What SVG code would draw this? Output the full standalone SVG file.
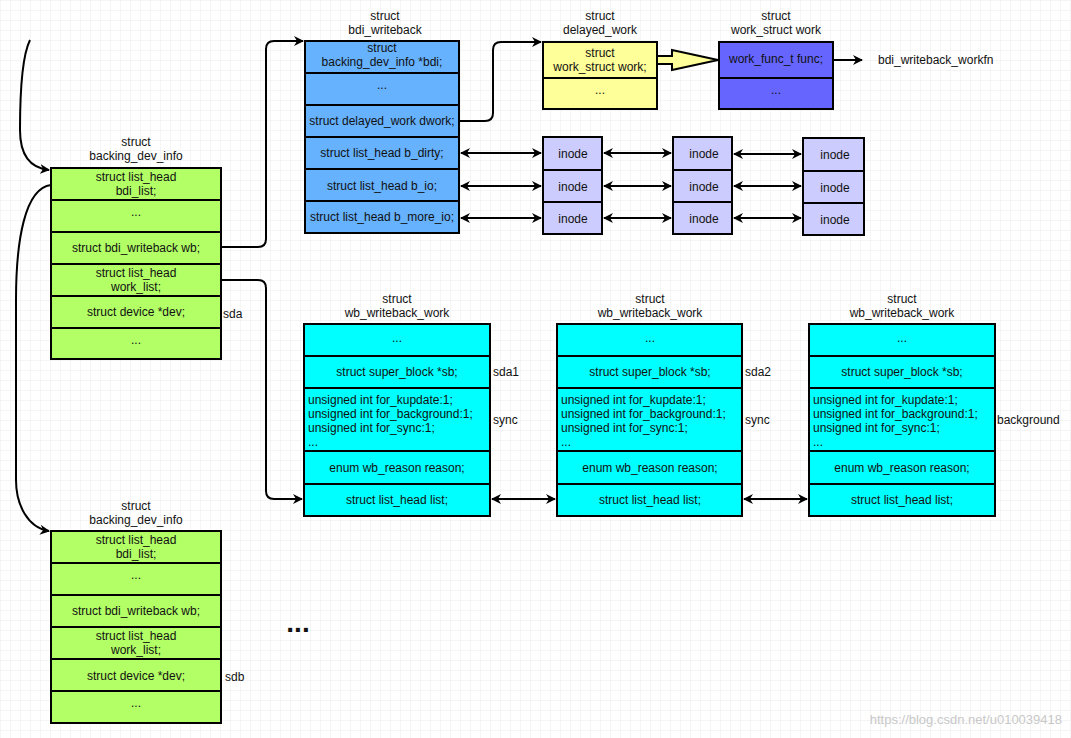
<svg xmlns="http://www.w3.org/2000/svg" width="1071" height="738" viewBox="0 0 1071 738">
<defs>
<pattern id="grid" width="10" height="10" patternUnits="userSpaceOnUse"><path d="M10 0H0V10" fill="none" stroke="#ececec" stroke-width="1"/></pattern>
<marker id="ah" viewBox="0 0 10 10" refX="9" refY="5" markerWidth="10" markerHeight="10" markerUnits="userSpaceOnUse" orient="auto-start-reverse"><path d="M0 0L10 5L0 10L3 5Z" fill="#000"/></marker>
</defs>
<style>
text{font-family:"Liberation Sans",Arial,sans-serif;font-size:12px;fill:#111;text-anchor:middle}
.l{text-anchor:start}
rect{stroke:#000;stroke-width:2}
.g{fill:#B3FF66}.b{fill:#66B2FF}.y{fill:#FFFF99}.p{fill:#6666FF}.i{fill:#CCCCFF}.c{fill:#00FFFF}
.cn path{fill:none;stroke:#000;stroke-width:2}
</style>
<rect width="1071" height="738" fill="#fff" style="stroke:none"/>
<rect width="1071" height="738" fill="url(#grid)" style="stroke:none"/>

<g id="bdi1">
<text x="136" y="146">struct</text><text x="136" y="160">backing_dev_info</text>
<rect class="g" x="51" y="168" width="170" height="32"/><text x="136" y="181">struct list_head</text><text x="136" y="195">bdi_list;</text>
<rect class="g" x="51" y="200" width="170" height="32"/><text x="136" y="216">...</text>
<rect class="g" x="51" y="232" width="170" height="32"/><text x="136" y="252">struct bdi_writeback wb;</text>
<rect class="g" x="51" y="264" width="170" height="32"/><text x="136" y="277">struct list_head</text><text x="136" y="291">work_list;</text>
<rect class="g" x="51" y="296" width="170" height="32"/><text x="136" y="316">struct device *dev;</text>
<rect class="g" x="51" y="328" width="170" height="31"/><text x="136" y="344">...</text>
<text class="l" x="223" y="318">sda</text>
</g>
<g id="bdi2">
<text x="136" y="510">struct</text><text x="136" y="524">backing_dev_info</text>
<rect class="g" x="51" y="531" width="170" height="32"/><text x="136" y="544">struct list_head</text><text x="136" y="558">bdi_list;</text>
<rect class="g" x="51" y="563" width="170" height="32"/><text x="136" y="579">...</text>
<rect class="g" x="51" y="595" width="170" height="32"/><text x="136" y="615">struct bdi_writeback wb;</text>
<rect class="g" x="51" y="627" width="170" height="32"/><text x="136" y="640">struct list_head</text><text x="136" y="654">work_list;</text>
<rect class="g" x="51" y="659" width="170" height="32"/><text x="136" y="680">struct device *dev;</text>
<rect class="g" x="51" y="691" width="170" height="32"/><text x="136" y="707">...</text>
<text class="l" x="225" y="681">sdb</text>
</g>
<g id="bdi_writeback">
<text x="385" y="20">struct</text><text x="385" y="34">bdi_writeback</text>
<rect class="b" x="305" y="41" width="154" height="32"/><text x="382" y="52">struct</text><text x="382" y="66">backing_dev_info *bdi;</text>
<rect class="b" x="305" y="73" width="154" height="32"/><text x="382" y="89">...</text>
<rect class="b" x="305" y="105" width="154" height="32"/><text x="382" y="125">struct delayed_work dwork;</text>
<rect class="b" x="305" y="137" width="154" height="32"/><text x="382" y="157">struct list_head b_dirty;</text>
<rect class="b" x="305" y="169" width="154" height="32"/><text x="382" y="190">struct list_head b_io;</text>
<rect class="b" x="305" y="201" width="154" height="32"/><text x="382" y="221">struct list_head b_more_io;</text>
</g>
<g id="delayed_work">
<text x="600" y="20">struct</text><text x="600" y="34">delayed_work</text>
<rect class="y" x="543" y="42" width="114" height="36"/><text x="600" y="57">struct</text><text x="600" y="71">work_struct work;</text>
<rect class="y" x="543" y="78" width="114" height="31"/><text x="600" y="94">...</text>
</g>
<g id="work_struct">
<text x="776" y="20">struct</text><text x="776" y="34">work_struct work</text>
<rect class="p" x="719" y="42" width="114" height="36"/><text x="776" y="63">work_func_t func;</text>
<rect class="p" x="719" y="78" width="114" height="31"/><text x="776" y="94">...</text>
</g>
<text id="workfn" class="l" x="878" y="64">bdi_writeback_workfn</text>
<g id="inodes">
<rect class="i" x="543" y="137" width="59" height="33"/><text x="573" y="158">inode</text>
<rect class="i" x="543" y="170" width="59" height="32"/><text x="573" y="191">inode</text>
<rect class="i" x="543" y="202" width="59" height="32"/><text x="573" y="223">inode</text>
<rect class="i" x="673" y="137" width="59" height="33"/><text x="704" y="158">inode</text>
<rect class="i" x="673" y="170" width="59" height="32"/><text x="704" y="191">inode</text>
<rect class="i" x="673" y="202" width="59" height="32"/><text x="704" y="223">inode</text>
<rect class="i" x="803" y="138" width="61" height="33"/><text x="835" y="159">inode</text>
<rect class="i" x="803" y="171" width="61" height="32"/><text x="835" y="192">inode</text>
<rect class="i" x="803" y="203" width="61" height="32"/><text x="835" y="224">inode</text>
</g>
<g id="wb1">
<text x="397" y="303">struct</text><text x="397" y="317">wb_writeback_work</text>
<rect class="c" x="304" y="324" width="186" height="32"/><text x="397" y="342">...</text>
<rect class="c" x="304" y="356" width="186" height="32"/><text x="397" y="376">struct super_block *sb;</text>
<rect class="c" x="304" y="388" width="186" height="63"/>
<text class="l" x="308" y="404">unsigned int for_kupdate:1;</text><text class="l" x="308" y="418">unsigned int for_background:1;</text><text class="l" x="308" y="432">unsigned int for_sync:1;</text><text class="l" x="308" y="446">...</text>
<rect class="c" x="304" y="451" width="186" height="33"/><text x="397" y="472">enum wb_reason reason;</text>
<rect class="c" x="304" y="484" width="186" height="32"/><text x="397" y="504">struct list_head list;</text>
<text class="l" x="493" y="376">sda1</text><text class="l" x="493" y="424">sync</text>
</g>
<g id="wb2">
<text x="650" y="303">struct</text><text x="650" y="317">wb_writeback_work</text>
<rect class="c" x="557" y="324" width="185" height="32"/><text x="650" y="342">...</text>
<rect class="c" x="557" y="356" width="185" height="32"/><text x="650" y="376">struct super_block *sb;</text>
<rect class="c" x="557" y="388" width="185" height="63"/>
<text class="l" x="561" y="404">unsigned int for_kupdate:1;</text><text class="l" x="561" y="418">unsigned int for_background:1;</text><text class="l" x="561" y="432">unsigned int for_sync:1;</text><text class="l" x="561" y="446">...</text>
<rect class="c" x="557" y="451" width="185" height="33"/><text x="650" y="472">enum wb_reason reason;</text>
<rect class="c" x="557" y="484" width="185" height="32"/><text x="650" y="504">struct list_head list;</text>
<text class="l" x="745" y="376">sda2</text><text class="l" x="745" y="424">sync</text>
</g>
<g id="wb3">
<text x="902" y="303">struct</text><text x="902" y="317">wb_writeback_work</text>
<rect class="c" x="809" y="324" width="186" height="32"/><text x="902" y="342">...</text>
<rect class="c" x="809" y="356" width="186" height="32"/><text x="902" y="376">struct super_block *sb;</text>
<rect class="c" x="809" y="388" width="186" height="63"/>
<text class="l" x="813" y="404">unsigned int for_kupdate:1;</text><text class="l" x="813" y="418">unsigned int for_background:1;</text><text class="l" x="813" y="432">unsigned int for_sync:1;</text><text class="l" x="813" y="446">...</text>
<rect class="c" x="809" y="451" width="186" height="33"/><text x="902" y="472">enum wb_reason reason;</text>
<rect class="c" x="809" y="484" width="186" height="32"/><text x="902" y="504">struct list_head list;</text>
<text class="l" x="997" y="424">background</text>
</g>
<text id="ellipsis" x="298" y="632" style="font-size:28px;font-weight:bold">...</text>
<text x="1062" y="724" style="font-size:13px;fill:#c8c8c8;text-anchor:end">https://blog.csdn.net/u010039418</text>

<g id="connectors" class="cn">
<path d="M30 40 C20 60 20 110 20 130 C20 155 30 168 49 170" marker-end="url(#ah)"/>
<path d="M51 185 C25 188 16 240 16 300 V480 C16 505 28 528 49 531" marker-end="url(#ah)"/>
<path d="M221 247 H258 Q266 247 266 239 V49 Q266 41 274 41 H303" marker-end="url(#ah)"/>
<path d="M221 280 H258 Q266 280 266 288 V491 Q266 499 274 499 H302" marker-end="url(#ah)"/>
<path d="M459 121 H485 Q493 121 493 113 V50 Q493 42 501 42 H541" marker-end="url(#ah)"/>
<path d="M833 60 H862" marker-end="url(#ah)"/>
<path d="M461 153 H541" marker-start="url(#ah)" marker-end="url(#ah)"/>
<path d="M461 186 H541" marker-start="url(#ah)" marker-end="url(#ah)"/>
<path d="M461 218 H541" marker-start="url(#ah)" marker-end="url(#ah)"/>
<path d="M604 153 H671" marker-start="url(#ah)" marker-end="url(#ah)"/>
<path d="M604 186 H671" marker-start="url(#ah)" marker-end="url(#ah)"/>
<path d="M604 218 H671" marker-start="url(#ah)" marker-end="url(#ah)"/>
<path d="M734 154 H801" marker-start="url(#ah)" marker-end="url(#ah)"/>
<path d="M734 186 H801" marker-start="url(#ah)" marker-end="url(#ah)"/>
<path d="M734 218 H801" marker-start="url(#ah)" marker-end="url(#ah)"/>
<path d="M492 499 H555" marker-start="url(#ah)" marker-end="url(#ah)"/>
<path d="M744 499 H807" marker-start="url(#ah)" marker-end="url(#ah)"/>
<path d="M657 56 H672 V50 L718 60 L672 70 V64 H657 Z" style="fill:#FFFF99;stroke-width:2"/>
</g>
</svg>
